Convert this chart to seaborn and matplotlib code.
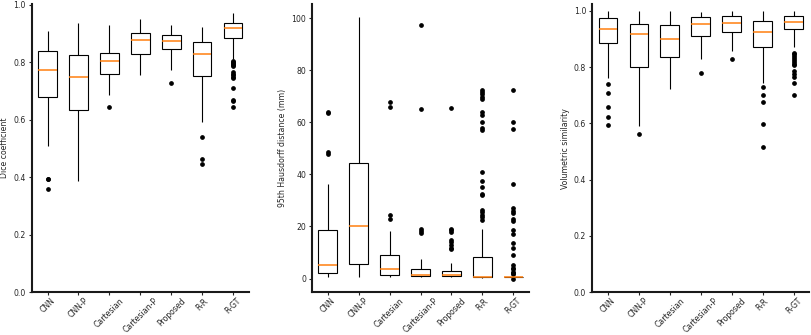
import pandas as pd
import matplotlib
matplotlib.use("Agg")
import matplotlib.pyplot as plt
import seaborn as sns

# ===============================
# Box summaries
# ===============================
methods = ["CNN", "CNN-P", "Cartesian", "Cartesian-P", "Proposed", "R-R", "R-GT"]

dice_lo = [0.507, 0.388, 0.687, 0.754, 0.773, 0.592, 0.810]
dice_q1 = [0.679, 0.634, 0.760, 0.829, 0.846, 0.753, 0.885]
dice_med = [0.773, 0.750, 0.805, 0.876, 0.874, 0.829, 0.919]
dice_q3 = [0.838, 0.826, 0.833, 0.901, 0.896, 0.871, 0.937]
dice_hi = [0.910, 0.937, 0.931, 0.949, 0.931, 0.923, 0.972]
dice_fliers = [
    [0.395, 0.392, 0.359],
    [],
    [0.645],
    [],
    [0.728],
    [0.540, 0.463, 0.446],
    [0.803, 0.800, 0.797, 0.793, 0.789, 0.786, 0.765, 0.760, 0.755,
     0.750, 0.745, 0.711, 0.668, 0.665, 0.643],
]

hd_lo = [0.4, 0.4, 0.4, 0.4, 0.4, 0.2, 0.1]
hd_q1 = [2.3, 5.4, 1.5, 0.8, 0.8, 0.4, 0.4]
hd_med = [5.0, 20.0, 3.7, 1.5, 1.4, 0.6, 0.5]
hd_q3 = [18.5, 44.3, 8.9, 3.6, 2.95, 8.4, 0.7]
hd_hi = [36.3, 100.5, 18.2, 7.6, 6.1, 18.9, 1.1]
hd_fliers = [
    [64.2, 63.6, 48.6, 47.9],
    [],
    [67.9, 65.9, 24.6, 22.7],
    [97.5, 65.1, 18.9, 18.4, 17.6],
    [65.5, 19.0, 18.5, 17.8, 14.9, 14.0, 12.8, 11.9, 11.2],
    [72.5, 71.8, 71.0, 69.8, 69.0, 64.0, 63.0, 60.2, 57.8, 57.0, 40.9,
     37.5, 35.3, 32.5, 32.0, 26.5, 25.5, 24.5, 23.5, 22.5],
    [72.3, 60.3, 57.4, 36.3, 27.0, 26.0, 25.0, 23.0, 22.3, 18.6, 17.3,
     13.5, 11.6, 8.9, 5.0, 4.2, 3.5, 2.5, 2.0, 1.6, -0.2],
]

vs_lo = [0.762, 0.589, 0.721, 0.827, 0.856, 0.745, 0.870]
vs_q1 = [0.884, 0.801, 0.836, 0.911, 0.923, 0.872, 0.936]
vs_med = [0.936, 0.916, 0.900, 0.954, 0.958, 0.924, 0.961]
vs_q3 = [0.975, 0.954, 0.950, 0.979, 0.982, 0.963, 0.982]
vs_hi = [1.0, 1.0, 1.0, 0.997, 1.0, 1.0, 1.0]
vs_fliers = [
    [0.741, 0.708, 0.658, 0.623, 0.594],
    [0.562],
    [],
    [0.779],
    [0.829],
    [0.730, 0.700, 0.676, 0.598, 0.516],
    [0.850, 0.845, 0.840, 0.833, 0.826, 0.819, 0.812, 0.806, 0.785,
     0.775, 0.765, 0.744, 0.699],
]


# ===============================
# Long-form table whose quartiles reproduce the summaries
# ===============================
def to_long(lo, q1, med, q3, hi, fliers):
    rows = []
    for i, m in enumerate(methods):
        low = sorted(v for v in fliers[i] if v < q1[i])
        high = sorted(v for v in fliers[i] if v > q3[i])
        k = 4 * (len(low) + len(high) + 2) + 4
        vals = low + [lo[i]] + [q1[i]] * k + [med[i]] * k + [q3[i]] * k + [hi[i]] + high
        rows += [(m, v) for v in vals]
    return pd.DataFrame(rows, columns=["method", "value"])


panels = [
    (to_long(dice_lo, dice_q1, dice_med, dice_q3, dice_hi, dice_fliers), "Dice coefficient", True),
    (to_long(hd_lo, hd_q1, hd_med, hd_q3, hd_hi, hd_fliers), "95th Hausdorff distance (mm)", False),
    (to_long(vs_lo, vs_q1, vs_med, vs_q3, vs_hi, vs_fliers), "Volumetric similarity", True),
]

# ===============================
# Plot
# ===============================
sns.set_style("ticks")
plt.rcParams["font.family"] = ["DejaVu Sans"]
FS = 5.6

fig, axes = plt.subplots(1, 3, figsize=(8.11, 3.35), dpi=100)
fig.subplots_adjust(left=0.0395, right=0.9975, bottom=0.128, top=0.988, wspace=0.294)

for ax, (df, label, zero_floor) in zip(axes, panels):
    sns.boxplot(
        data=df, x="method", y="value", order=methods, ax=ax,
        width=0.6, color="white", linecolor="black", linewidth=0.8,
        fliersize=2.4, showcaps=False,
        medianprops={"color": "#ff7f0e", "linewidth": 1.1},
        flierprops={"marker": "o", "markerfacecolor": "black",
                    "markeredgecolor": "black"},
    )
    if zero_floor:
        ax.set_ylim(bottom=0)
    ax.set_xlabel("")
    ax.set_ylabel(label, fontsize=FS, labelpad=3)
    ax.tick_params(axis="both", labelsize=FS, length=2.5, width=0.8, pad=2)
    ax.tick_params(axis="x", pad=0.5)
    plt.setp(ax.get_xticklabels(), rotation=45)
    sns.despine(ax=ax)
    for side in ["left", "bottom"]:
        ax.spines[side].set_linewidth(1.5)
        ax.spines[side].set_color("0.1")

fig.savefig("out.png", dpi=100)
